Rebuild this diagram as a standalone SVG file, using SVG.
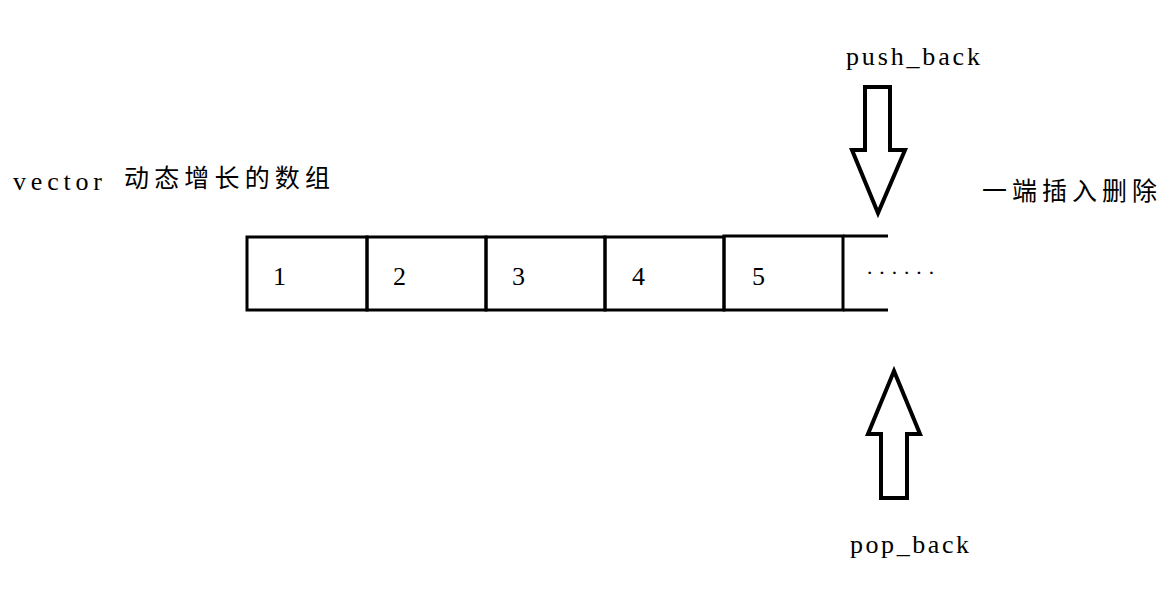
<svg xmlns="http://www.w3.org/2000/svg" width="1175" height="611" viewBox="0 0 1175 611">
<style>
.t{font-family:"Liberation Serif","Noto Sans CJK SC",serif;fill:#000}
.c{font-family:"Noto Sans CJK SC","Liberation Serif",sans-serif;fill:#000}
.s{fill:none;stroke:#000;stroke-width:3}
.a{fill:#fff;stroke:#000;stroke-width:4;stroke-linejoin:miter}
</style>
<rect width="1175" height="611" fill="#fff"/>
<text class="t" x="13" y="190" font-size="26" textLength="89" lengthAdjust="spacing">vector</text>
<text class="c" x="124" y="187" font-size="25" textLength="206" lengthAdjust="spacing">动态增长的数组</text>
<text class="c" x="982" y="200" font-size="25" textLength="175" lengthAdjust="spacing">一端插入删除</text>
<text class="t" x="846" y="65" font-size="26" textLength="134" lengthAdjust="spacing">push_back</text>
<text class="t" x="850" y="553" font-size="26" textLength="119" lengthAdjust="spacing">pop_back</text>
<g id="array">
<rect class="s" x="247" y="237" width="120" height="73"/>
<rect class="s" x="367" y="237" width="119" height="73"/>
<rect class="s" x="486" y="237" width="119" height="73"/>
<rect class="s" x="605" y="237" width="119" height="73"/>
<rect class="s" x="724" y="236" width="119" height="74"/>
<path class="s" d="M843 236H888M843 310H888"/>
<g class="t" font-size="26">
<text x="273" y="285">1</text><text x="393" y="285">2</text><text x="512" y="285">3</text><text x="632" y="285">4</text><text x="752" y="285">5</text>
</g>
<text class="t" x="866" y="280" font-size="22" letter-spacing="5">······</text>
</g>
<g id="connectors">
<path class="a" d="M865 87H890V150H905L878 213L852 150H865Z"/>
<path class="a" d="M881 498H907V434H920L894 371L868 434H881Z"/>
</g>
</svg>
